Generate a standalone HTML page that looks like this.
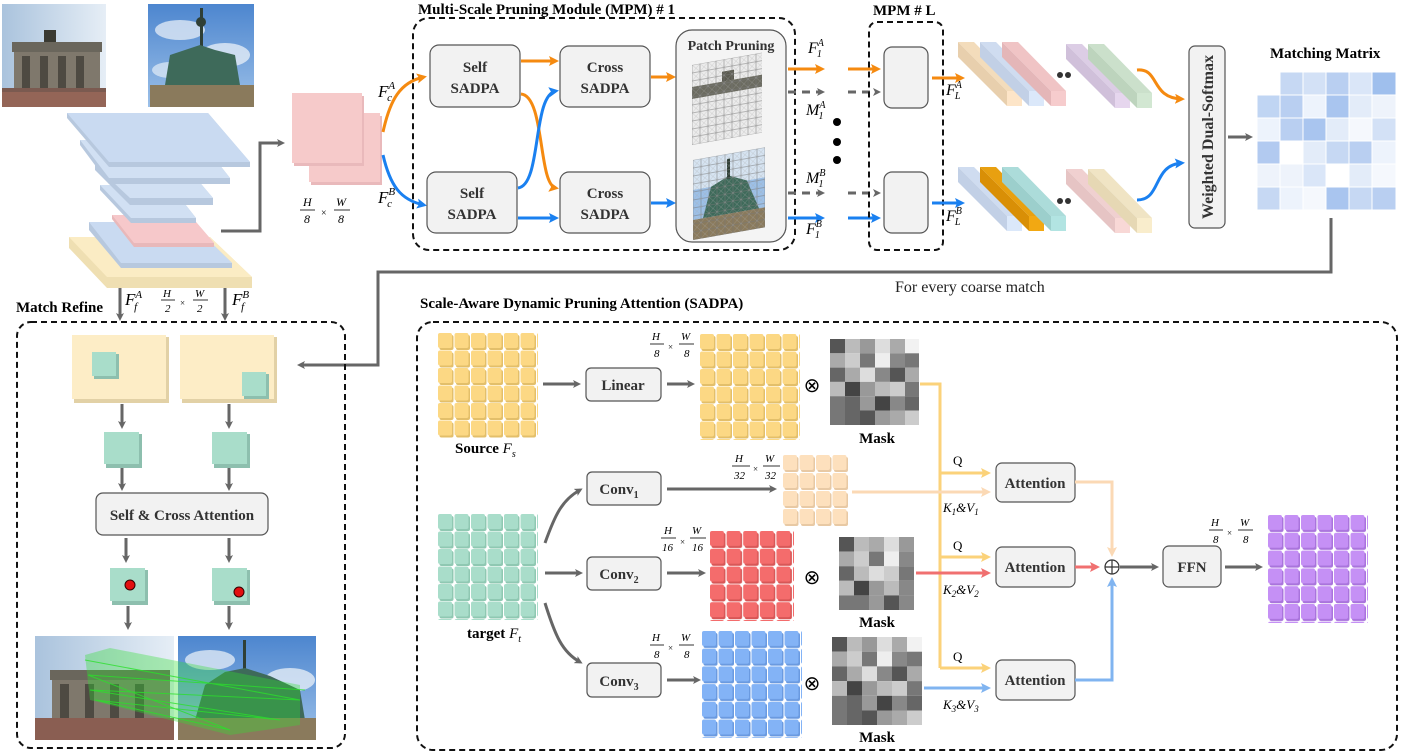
<!DOCTYPE html>
<html><head><meta charset="utf-8"><style>
html,body{margin:0;padding:0;background:#fff;}
svg{display:block;font-family:"Liberation Serif",serif;}
.b{font-weight:bold;}
.box{fill:#f2f2f2;stroke:#555;stroke-width:1.2;}
.dash{fill:none;stroke:#111;stroke-width:2;stroke-dasharray:6,4;}
.ga{stroke:#666;stroke-width:3;fill:none;}
.it{font-style:italic;}
</style></head><body>
<svg width="1404" height="756" viewBox="0 0 1404 756" xmlns="http://www.w3.org/2000/svg">
<defs>
<marker id="ag" markerWidth="8" markerHeight="8" refX="5" refY="4" orient="auto" markerUnits="userSpaceOnUse"><path d="M0,0 L8,4 L0,8 L2,4z" fill="#666"/></marker>
<marker id="ao" markerWidth="10" markerHeight="10" refX="7" refY="5" orient="auto" markerUnits="userSpaceOnUse"><path d="M0,0 L10,5 L0,10 L2,5z" fill="#f58a10"/></marker>
<marker id="ab" markerWidth="10" markerHeight="10" refX="7" refY="5" orient="auto" markerUnits="userSpaceOnUse"><path d="M0,0 L10,5 L0,10 L2,5z" fill="#1a80f0"/></marker>
<marker id="ay" markerWidth="10" markerHeight="10" refX="7" refY="5" orient="auto" markerUnits="userSpaceOnUse"><path d="M0,0 L10,5 L0,10 L2,5z" fill="#fbd27a"/></marker>
<marker id="ap" markerWidth="10" markerHeight="10" refX="7" refY="5" orient="auto" markerUnits="userSpaceOnUse"><path d="M0,0 L10,5 L0,10 L2,5z" fill="#fbd9b5"/></marker>
<marker id="ar" markerWidth="10" markerHeight="10" refX="7" refY="5" orient="auto" markerUnits="userSpaceOnUse"><path d="M0,0 L10,5 L0,10 L2,5z" fill="#f07070"/></marker>
<marker id="al" markerWidth="10" markerHeight="10" refX="7" refY="5" orient="auto" markerUnits="userSpaceOnUse"><path d="M0,0 L10,5 L0,10 L2,5z" fill="#80b4f0"/></marker>
<pattern id="ty" width="16.5" height="17.5" patternUnits="userSpaceOnUse"><rect x="1.5" y="2" width="14" height="15" rx="2" fill="#e3bf6a"/><rect x="0" y="0" width="14" height="15" rx="2" fill="#fcd884"/></pattern>
<pattern id="tt" width="16.5" height="17.5" patternUnits="userSpaceOnUse"><rect x="1.5" y="2" width="14" height="15" rx="2" fill="#8fc8b2"/><rect x="0" y="0" width="14" height="15" rx="2" fill="#a9ddca"/></pattern>
<pattern id="tp" width="16.5" height="18" patternUnits="userSpaceOnUse"><rect x="1.5" y="2" width="14" height="15" rx="2" fill="#e8c9a4"/><rect x="0" y="0" width="14" height="15" rx="2" fill="#fde0bd"/></pattern>
<pattern id="tr" width="16.6" height="17.8" patternUnits="userSpaceOnUse"><rect x="1.5" y="2" width="14" height="15" rx="2" fill="#d85656"/><rect x="0" y="0" width="14" height="15" rx="2" fill="#f46c6c"/></pattern>
<pattern id="tb" width="16.5" height="17.7" patternUnits="userSpaceOnUse"><rect x="1.5" y="2" width="14" height="15" rx="2" fill="#6a9ae0"/><rect x="0" y="0" width="14" height="15" rx="2" fill="#83b3f6"/></pattern>
<pattern id="tv" width="16.5" height="17.8" patternUnits="userSpaceOnUse"><rect x="1.5" y="2" width="14" height="15" rx="2" fill="#a974dc"/><rect x="0" y="0" width="14" height="15" rx="2" fill="#c590f5"/></pattern>
<pattern id="pg" width="8" height="8" patternUnits="userSpaceOnUse"><rect width="8" height="8" fill="none" stroke="#777" stroke-width="0.5"/><path d="M0,0L8,8M8,0L0,8" stroke="#aaa" stroke-width="0.3"/></pattern>
<linearGradient id="sky1" x1="0" y1="0" x2="1" y2="0"><stop offset="0" stop-color="#aac3dd"/><stop offset="1" stop-color="#e6eef6"/></linearGradient>
<linearGradient id="sky2" x1="0" y1="0" x2="0" y2="1"><stop offset="0" stop-color="#4d86cf"/><stop offset="1" stop-color="#9cc0e8"/></linearGradient>
</defs>

<!-- top photos -->
<g>
<rect x="2" y="4" width="104" height="103" fill="url(#sky1)"/>
<rect x="12" y="42" width="90" height="10" fill="#6a665c"/>
<rect x="14" y="52" width="86" height="38" fill="#7f786c"/>
<rect x="22" y="56" width="8" height="34" fill="#4e4a42"/><rect x="40" y="56" width="8" height="34" fill="#4e4a42"/><rect x="58" y="56" width="8" height="34" fill="#4e4a42"/><rect x="76" y="56" width="8" height="34" fill="#4e4a42"/>
<rect x="44" y="30" width="12" height="12" fill="#3a3a32"/>
<rect x="2" y="88" width="104" height="19" fill="#7b5a50"/>
<rect x="2" y="92" width="104" height="15" fill="#a06a5a" opacity=".7"/>
</g>
<g>
<rect x="148" y="4" width="106" height="103" fill="url(#sky2)"/>
<ellipse cx="180" cy="30" rx="25" ry="10" fill="#dfe9f5" opacity=".8"/><ellipse cx="225" cy="55" rx="25" ry="12" fill="#e3ecf6" opacity=".8"/><ellipse cx="170" cy="70" rx="18" ry="8" fill="#e3ecf6" opacity=".7"/>
<rect x="200" y="8" width="3" height="40" fill="#2f3f36"/><circle cx="201" cy="22" r="5" fill="#2f3f36"/>
<path d="M165,85 L170,55 L185,50 L200,45 L215,50 L235,55 L240,85z" fill="#3e6a5a"/>
<rect x="150" y="85" width="104" height="22" fill="#8a7a5c"/>
</g>

<!-- pyramid -->
<polygon points="69,237 210,237 252,277 252,288 107,288 69,248" fill="#efdfb2"/><polygon points="69,237 210,237 252,277 107,277" fill="#fbecc4"/>
<polygon points="89,222 190,222 232,263 232,268 121,268 89,230" fill="#b7c8de"/><polygon points="89,222 190,222 232,263 121,263" fill="#c9daf1"/>
<polygon points="112,215 190,215 214,243 214,247 134,247 112,219" fill="#e8b8ba"/><polygon points="112,215 190,215 214,243 134,243" fill="#f6c8ca"/>
<polygon points="100,185 170,185 196,218 196,223 131,223 100,190" fill="#b7c8de"/><polygon points="100,185 170,185 196,218 131,218" fill="#d1e0f3"/>
<polygon points="95,165 185,165 213,198 213,205 130,205 95,170" fill="#b7c8de"/><polygon points="95,165 185,165 213,198 130,198" fill="#d1e0f3"/>
<polygon points="80,140 200,140 230,178 230,184 109,184 80,145" fill="#b7c8de"/><polygon points="80,140 200,140 230,178 109,178" fill="#d1e0f3"/>
<polygon points="67,113 208,113 250,162 250,167 109,167 67,118" fill="#b7c8de"/><polygon points="67,113 208,113 250,162 109,162" fill="#c9daf1"/>
<path d="M221,231 H260 V143 H282" class="ga" marker-end="url(#ag)"/>

<!-- pink blocks -->
<rect x="311" y="116" width="71" height="69" fill="#e9b9bb"/><rect x="309" y="113" width="71" height="69" fill="#f6caca"/>
<rect x="294" y="96" width="70" height="70" fill="#e9b9bb"/><rect x="292" y="93" width="70" height="70" fill="#f6caca"/>
<g font-size="12" class="it"><text x="303" y="206">H</text><line x1="300" y1="210" x2="315" y2="210" stroke="#333"/><text x="304" y="223">8</text><text x="321" y="216" font-style="normal" font-size="10">×</text><text x="336" y="206">W</text><line x1="334" y1="210" x2="350" y2="210" stroke="#333"/><text x="338" y="223">8</text></g>
<text x="378" y="97" font-size="17" class="it">F<tspan font-size="11" dy="-8">A</tspan><tspan font-size="11" dx="-8" dy="12">c</tspan></text>
<text x="378" y="203" font-size="17" class="it">F<tspan font-size="11" dy="-8">B</tspan><tspan font-size="11" dx="-8" dy="12">c</tspan></text>
<path d="M383,132 C390,100 400,82 424,77" stroke="#f58a10" stroke-width="3" fill="none" marker-end="url(#ao)"/>
<path d="M383,155 C390,185 400,200 424,205" stroke="#1a80f0" stroke-width="3" fill="none" marker-end="url(#ab)"/>

<!-- MPM1 -->
<text x="418" y="14" font-size="15" class="b">Multi-Scale Pruning Module (MPM) # 1</text>
<rect x="413" y="18" width="382" height="232" rx="16" class="dash"/>
<rect x="430" y="45" width="90" height="62" rx="9" class="box"/><text x="475" y="72" font-size="15" class="b" text-anchor="middle" fill="#333">Self</text><text x="475" y="93" font-size="15" class="b" text-anchor="middle" fill="#333">SADPA</text>
<rect x="560" y="46" width="90" height="61" rx="9" class="box"/><text x="605" y="72" font-size="15" class="b" text-anchor="middle" fill="#333">Cross</text><text x="605" y="93" font-size="15" class="b" text-anchor="middle" fill="#333">SADPA</text>
<rect x="427" y="172" width="90" height="61" rx="9" class="box"/><text x="472" y="198" font-size="15" class="b" text-anchor="middle" fill="#333">Self</text><text x="472" y="219" font-size="15" class="b" text-anchor="middle" fill="#333">SADPA</text>
<rect x="560" y="172" width="90" height="61" rx="9" class="box"/><text x="605" y="198" font-size="15" class="b" text-anchor="middle" fill="#333">Cross</text><text x="605" y="219" font-size="15" class="b" text-anchor="middle" fill="#333">SADPA</text>
<path d="M521,61 H556" stroke="#f58a10" stroke-width="3" marker-end="url(#ao)"/>
<path d="M521,94 C545,96 538,185 556,188" stroke="#f58a10" stroke-width="3" fill="none" marker-end="url(#ao)"/>
<path d="M518,188 C542,185 532,95 556,91" stroke="#1a80f0" stroke-width="3" fill="none" marker-end="url(#ab)"/>
<path d="M518,218 H556" stroke="#1a80f0" stroke-width="3" marker-end="url(#ab)"/>
<path d="M651,77 H673" stroke="#f58a10" stroke-width="3" marker-end="url(#ao)"/>
<path d="M651,203 H673" stroke="#1a80f0" stroke-width="3" marker-end="url(#ab)"/>
<rect x="676" y="30" width="110" height="212" rx="16" fill="#f4f4f4" stroke="#555" stroke-width="1.2"/>
<text x="731" y="50" font-size="14" class="b" text-anchor="middle" fill="#333">Patch Pruning</text>
<g transform="translate(692,65) skewY(-10)"><rect width="70" height="80" fill="#ececec"/><rect y="22" width="70" height="12" fill="#6b6b60"/><rect x="30" y="12" width="12" height="10" fill="#5a5a50"/><rect width="70" height="80" fill="url(#pg)"/></g>
<g transform="translate(693,160) skewY(-10)"><rect width="72" height="80" fill="#d6e4f2"/><rect y="30" width="72" height="30" fill="#9cc0e8"/><path d="M10,60 L18,30 L36,22 L54,30 L66,60z" fill="#3e6a5a"/><rect y="60" width="72" height="20" fill="#8a7a5c"/><rect x="34" y="5" width="3" height="20" fill="#2f3f36"/><rect width="72" height="80" fill="url(#pg)"/></g>

<!-- between -->
<text x="808" y="53" font-size="16" class="it">F<tspan font-size="10" dy="-7">A</tspan><tspan font-size="10" dx="-7" dy="11">1</tspan></text>
<path d="M788,69 H822" stroke="#f58a10" stroke-width="3" marker-end="url(#ao)"/>
<path d="M788,92 H822" stroke="#666" stroke-width="3" stroke-dasharray="8,6" marker-end="url(#ag)"/>
<text x="806" y="115" font-size="16" class="it">M<tspan font-size="10" dy="-7">A</tspan><tspan font-size="10" dx="-7" dy="11">1</tspan></text>
<circle cx="837" cy="122" r="4"/><circle cx="837" cy="142" r="4"/><circle cx="837" cy="160" r="4"/>
<text x="806" y="183" font-size="16" class="it">M<tspan font-size="10" dy="-7">B</tspan><tspan font-size="10" dx="-7" dy="11">1</tspan></text>
<path d="M788,193 H822" stroke="#666" stroke-width="3" stroke-dasharray="8,6" marker-end="url(#ag)"/>
<path d="M788,218 H822" stroke="#1a80f0" stroke-width="3" marker-end="url(#ab)"/>
<text x="806" y="234" font-size="16" class="it">F<tspan font-size="10" dy="-7">B</tspan><tspan font-size="10" dx="-7" dy="11">1</tspan></text>
<path d="M848,69 H878" stroke="#f58a10" stroke-width="3" marker-end="url(#ao)"/>
<path d="M848,92 H878" stroke="#666" stroke-width="3" stroke-dasharray="8,6" marker-end="url(#ag)"/>
<path d="M848,193 H878" stroke="#666" stroke-width="3" stroke-dasharray="8,6" marker-end="url(#ag)"/>
<path d="M848,218 H878" stroke="#1a80f0" stroke-width="3" marker-end="url(#ab)"/>

<!-- MPM L -->
<text x="873" y="15" font-size="15" class="b">MPM # L</text>
<rect x="869" y="22" width="74" height="228" rx="8" class="dash"/>
<rect x="884" y="47" width="44" height="61" rx="8" class="box"/>
<rect x="884" y="172" width="44" height="61" rx="8" class="box"/>
<path d="M932,78 H962" stroke="#f58a10" stroke-width="3" marker-end="url(#ao)"/>
<path d="M932,203 H962" stroke="#1a80f0" stroke-width="3" marker-end="url(#ab)"/>
<text x="946" y="95" font-size="16" class="it">F<tspan font-size="10" dy="-7">A</tspan><tspan font-size="10" dx="-7" dy="11">L</tspan></text>
<text x="946" y="221" font-size="16" class="it">F<tspan font-size="10" dy="-7">B</tspan><tspan font-size="10" dx="-7" dy="11">L</tspan></text>

<!-- bars -->
<g id="bars">
<g transform="translate(958,42)"><polygon points="0,0 16,0 64,49 49,49" fill="#f3dcbb"/><polygon points="0,0 49,49 49,64 0,15" fill="#e8cfad"/><rect x="49" y="49" width="15" height="15" fill="#fde5c8"/></g>
<g transform="translate(980,42)"><polygon points="0,0 16,0 64,49 49,49" fill="#cfdcf0"/><polygon points="0,0 49,49 49,64 0,15" fill="#c2d0e6"/><rect x="49" y="49" width="15" height="15" fill="#dbe8fa"/></g>
<g transform="translate(1002,42)"><polygon points="0,0 16,0 64,49 49,49" fill="#f0c4c5"/><polygon points="0,0 49,49 49,64 0,15" fill="#e4b6b8"/><rect x="49" y="49" width="15" height="15" fill="#f6cccd"/></g>
<g transform="translate(1066,44)"><polygon points="0,0 16,0 64,49 49,49" fill="#dccde5"/><polygon points="0,0 49,49 49,64 0,15" fill="#d0c0da"/><rect x="49" y="49" width="15" height="15" fill="#e6d6ee"/></g>
<g transform="translate(1088,44)"><polygon points="0,0 16,0 64,49 49,49" fill="#cbe0cb"/><polygon points="0,0 49,49 49,64 0,15" fill="#bdd4bd"/><rect x="49" y="49" width="15" height="15" fill="#d2e7d2"/></g>
<g transform="translate(958,167)"><polygon points="0,0 16,0 64,49 49,49" fill="#cfdcf0"/><polygon points="0,0 49,49 49,64 0,15" fill="#c2d0e6"/><rect x="49" y="49" width="15" height="15" fill="#dbe8fa"/></g>
<g transform="translate(980,167)"><polygon points="0,0 16,0 64,49 49,49" fill="#e8a010"/><polygon points="0,0 49,49 49,64 0,15" fill="#d98f06"/><rect x="49" y="49" width="15" height="15" fill="#f2a812"/></g>
<g transform="translate(1002,167)"><polygon points="0,0 16,0 64,49 49,49" fill="#acdcda"/><polygon points="0,0 49,49 49,64 0,15" fill="#9ccfcc"/><rect x="49" y="49" width="15" height="15" fill="#b2e4e2"/></g>
<g transform="translate(1066,169)"><polygon points="0,0 16,0 64,49 49,49" fill="#f0d0d0"/><polygon points="0,0 49,49 49,64 0,15" fill="#e6c4c4"/><rect x="49" y="49" width="15" height="15" fill="#f8d8d6"/></g>
<g transform="translate(1088,169)"><polygon points="0,0 16,0 64,49 49,49" fill="#f0e4c4"/><polygon points="0,0 49,49 49,64 0,15" fill="#e6d8b4"/><rect x="49" y="49" width="15" height="15" fill="#f9edcc"/></g>
</g>
<circle cx="1060" cy="75" r="3" fill="#333"/><circle cx="1068" cy="75" r="3" fill="#333"/>
<circle cx="1060" cy="201" r="3" fill="#333"/><circle cx="1068" cy="201" r="3" fill="#333"/>
<path d="M1137,70 C1160,68 1150,98 1182,99" stroke="#f58a10" stroke-width="3" fill="none" marker-end="url(#ao)"/>
<path d="M1137,200 C1162,200 1152,165 1182,163" stroke="#1a80f0" stroke-width="3" fill="none" marker-end="url(#ab)"/>

<rect x="1189" y="46" width="36" height="182" rx="6" class="box"/>
<text transform="translate(1213,137) rotate(-90)" font-size="16" class="b" text-anchor="middle" fill="#333">Weighted Dual-Softmax</text>
<path d="M1228,137 H1250" class="ga" marker-end="url(#ag)"/>

<text x="1270" y="58" font-size="15" class="b">Matching Matrix</text>
<g stroke="#fff" stroke-width="1">
<rect x="1280" y="72" width="23" height="23" fill="#c6d8f3"/><rect x="1303" y="72" width="23" height="23" fill="#d3e1f6"/><rect x="1326" y="72" width="23" height="23" fill="#b9cff1"/><rect x="1349" y="72" width="23" height="23" fill="#dae6f8"/><rect x="1372" y="72" width="24" height="23" fill="#9fbfed"/>
<rect x="1257" y="95" width="23" height="23" fill="#c0d5f3"/><rect x="1280" y="95" width="23" height="23" fill="#b9cff1"/><rect x="1303" y="95" width="23" height="23" fill="#edf3fc"/><rect x="1326" y="95" width="23" height="23" fill="#a9c5ef"/><rect x="1349" y="95" width="23" height="23" fill="#e3ecf9"/><rect x="1372" y="95" width="24" height="23" fill="#eef3fb"/>
<rect x="1257" y="118" width="23" height="23" fill="#edf3fc"/><rect x="1280" y="118" width="23" height="23" fill="#b9cff1"/><rect x="1303" y="118" width="23" height="23" fill="#a9c5ef"/><rect x="1326" y="118" width="23" height="23" fill="#e3ecf9"/><rect x="1349" y="118" width="23" height="23" fill="#f5f8fd"/><rect x="1372" y="118" width="24" height="23" fill="#d3e1f6"/>
<rect x="1257" y="141" width="23" height="23" fill="#b2caf0"/><rect x="1280" y="141" width="23" height="23" fill="#fff"/><rect x="1303" y="141" width="23" height="23" fill="#e3ecf9"/><rect x="1326" y="141" width="23" height="23" fill="#c6d8f3"/><rect x="1349" y="141" width="23" height="23" fill="#b9cff1"/><rect x="1372" y="141" width="24" height="23" fill="#edf3fc"/>
<rect x="1257" y="164" width="23" height="23" fill="#eef3fb"/><rect x="1280" y="164" width="23" height="23" fill="#eef3fb"/><rect x="1303" y="164" width="23" height="23" fill="#dae6f8"/><rect x="1326" y="164" width="23" height="23" fill="#fff"/><rect x="1349" y="164" width="23" height="23" fill="#e3ecf9"/><rect x="1372" y="164" width="24" height="23" fill="#f5f8fd"/>
<rect x="1257" y="187" width="23" height="23" fill="#c6d8f3"/><rect x="1280" y="187" width="23" height="23" fill="#edf3fc"/><rect x="1303" y="187" width="23" height="23" fill="#f5f8fd"/><rect x="1326" y="187" width="23" height="23" fill="#a9c5ef"/><rect x="1349" y="187" width="23" height="23" fill="#c6d8f3"/><rect x="1372" y="187" width="24" height="23" fill="#b9cff1"/>
</g>
<path d="M1331,218 V272 H378 V365 H300" class="ga" marker-end="url(#ag)"/>
<text x="895" y="292" font-size="16" fill="#222">For every coarse match</text>

<!-- Match refine -->
<text x="16" y="312" font-size="15" class="b">Match Refine</text>
<rect x="17" y="322" width="328" height="426" rx="14" class="dash"/>
<path d="M120,288 V318" class="ga" marker-end="url(#ag)"/>
<path d="M225,288 V318" class="ga" marker-end="url(#ag)"/>
<text x="125" y="305" font-size="17" class="it">F<tspan font-size="11" dy="-7">A</tspan><tspan font-size="11" dx="-8" dy="12">f</tspan></text>
<text x="232" y="305" font-size="17" class="it">F<tspan font-size="11" dy="-7">B</tspan><tspan font-size="11" dx="-8" dy="12">f</tspan></text>
<g font-size="11" class="it"><text x="163" y="297">H</text><line x1="161" y1="300" x2="175" y2="300" stroke="#333"/><text x="165" y="312">2</text><text x="180" y="306" font-style="normal" font-size="9">×</text><text x="195" y="297">W</text><line x1="193" y1="300" x2="208" y2="300" stroke="#333"/><text x="197" y="312">2</text></g>
<rect x="74" y="337" width="95" height="66" fill="#e2d1a6"/><rect x="72" y="335" width="94" height="64" fill="#fdedc6"/>
<rect x="182" y="337" width="95" height="66" fill="#e2d1a6"/><rect x="180" y="335" width="94" height="64" fill="#fdedc6"/>
<rect x="94" y="354" width="25" height="25" fill="#8dbfae"/><rect x="92" y="352" width="24" height="24" fill="#a9ddca"/>
<rect x="244" y="374" width="25" height="25" fill="#8dbfae"/><rect x="242" y="372" width="24" height="24" fill="#a9ddca"/>
<path d="M122,404 V426" class="ga" marker-end="url(#ag)"/><path d="M229,404 V426" class="ga" marker-end="url(#ag)"/>
<rect x="106" y="434" width="36" height="34" fill="#8dbfae"/><rect x="104" y="432" width="35" height="32" fill="#a9ddca"/>
<rect x="214" y="434" width="36" height="34" fill="#8dbfae"/><rect x="212" y="432" width="35" height="32" fill="#a9ddca"/>
<path d="M122,468 V488" class="ga" marker-end="url(#ag)"/><path d="M229,468 V488" class="ga" marker-end="url(#ag)"/>
<rect x="96" y="493" width="172" height="42" rx="7" class="box"/>
<text x="182" y="520" font-size="15" class="b" text-anchor="middle" fill="#333">Self &amp; Cross Attention</text>
<path d="M126,538 V560" class="ga" marker-end="url(#ag)"/><path d="M229,538 V560" class="ga" marker-end="url(#ag)"/>
<rect x="112" y="570" width="36" height="35" fill="#8dbfae"/><rect x="110" y="568" width="35" height="33" fill="#a9ddca"/>
<rect x="214" y="570" width="36" height="35" fill="#8dbfae"/><rect x="212" y="568" width="35" height="33" fill="#a9ddca"/>
<circle cx="130" cy="585" r="5" fill="#e21010" stroke="#300" stroke-width="1"/>
<circle cx="239" cy="592" r="5" fill="#e21010" stroke="#300" stroke-width="1"/>
<path d="M128,606 V627" class="ga" marker-end="url(#ag)"/><path d="M229,606 V627" class="ga" marker-end="url(#ag)"/>
<rect x="35" y="636" width="139" height="104" fill="url(#sky1)"/>
<rect x="50" y="670" width="120" height="10" fill="#6a665c"/><rect x="52" y="680" width="118" height="40" fill="#7f786c"/>
<rect x="60" y="684" width="9" height="36" fill="#4e4a42"/><rect x="85" y="684" width="9" height="36" fill="#4e4a42"/><rect x="110" y="684" width="9" height="36" fill="#4e4a42"/><rect x="135" y="684" width="9" height="36" fill="#4e4a42"/>
<rect x="35" y="718" width="139" height="22" fill="#8a5e52"/>
<rect x="178" y="636" width="138" height="104" fill="url(#sky2)"/>
<ellipse cx="210" cy="660" rx="25" ry="10" fill="#dfe9f5" opacity=".8"/><ellipse cx="290" cy="680" rx="25" ry="12" fill="#e3ecf6" opacity=".8"/>
<rect x="243" y="640" width="3" height="35" fill="#2f3f36"/>
<path d="M195,720 L205,685 L225,672 L245,668 L270,676 L300,690 L305,720z" fill="#3e6a5a"/>
<rect x="178" y="718" width="138" height="22" fill="#8a7a5c"/>
<path d="M85,660 L300,700 L90,690 L280,720 L95,700 L230,730 L88,675 L305,690" stroke="#28e028" stroke-width="1" fill="none" opacity=".8"/>
<polygon points="85,655 110,648 300,685 300,725 230,735 90,700" fill="#30e030" opacity=".35"/>

<!-- SADPA -->
<text x="420" y="308" font-size="15" class="b">Scale-Aware Dynamic Pruning Attention (SADPA)</text>
<rect x="417" y="322" width="980" height="428" rx="16" class="dash"/>
<g transform="translate(438,333)"><rect width="100" height="105" fill="url(#ty)"/></g>
<text x="455" y="453" font-size="15" class="b">Source <tspan font-weight="normal" font-style="italic">F<tspan font-size="10" dy="4">s</tspan></tspan></text>
<path d="M543,384 H578" class="ga" marker-end="url(#ag)"/>
<rect x="586" y="368" width="75" height="33" rx="5" class="box"/><text x="623" y="390" font-size="15" class="b" text-anchor="middle" fill="#333">Linear</text>
<path d="M667,384 H692" class="ga" marker-end="url(#ag)"/>
<g font-size="11" class="it"><text x="652" y="340">H</text><line x1="650" y1="344" x2="664" y2="344" stroke="#333"/><text x="654" y="357">8</text><text x="668" y="350" font-style="normal" font-size="9">×</text><text x="681" y="340">W</text><line x1="679" y1="344" x2="694" y2="344" stroke="#333"/><text x="684" y="357">8</text></g>
<g transform="translate(700,334)"><rect width="100" height="106" fill="url(#ty)"/></g>
<text x="812" y="392" font-size="20" text-anchor="middle">⊗</text>
<g transform="translate(830,339)">
<g>
<rect x="0" y="0" width="15" height="14.3" fill="#555"/><rect x="15" y="0" width="15" height="14.3" fill="#bbb"/><rect x="30" y="0" width="15" height="14.3" fill="#999"/><rect x="45" y="0" width="15" height="14.3" fill="#ddd"/><rect x="60" y="0" width="15" height="14.3" fill="#aaa"/><rect x="75" y="0" width="14" height="14.3" fill="#f2f2f2"/>
<rect x="0" y="14.3" width="15" height="14.3" fill="#aaa"/><rect x="15" y="14.3" width="15" height="14.3" fill="#ccc"/><rect x="30" y="14.3" width="15" height="14.3" fill="#777"/><rect x="45" y="14.3" width="15" height="14.3" fill="#eee"/><rect x="60" y="14.3" width="15" height="14.3" fill="#888"/><rect x="75" y="14.3" width="14" height="14.3" fill="#777"/>
<rect x="0" y="28.6" width="15" height="14.3" fill="#666"/><rect x="15" y="28.6" width="15" height="14.3" fill="#aaa"/><rect x="30" y="28.6" width="15" height="14.3" fill="#ddd"/><rect x="45" y="28.6" width="15" height="14.3" fill="#888"/><rect x="60" y="28.6" width="15" height="14.3" fill="#555"/><rect x="75" y="28.6" width="14" height="14.3" fill="#aaa"/>
<rect x="0" y="42.9" width="15" height="14.3" fill="#bbb"/><rect x="15" y="42.9" width="15" height="14.3" fill="#444"/><rect x="30" y="42.9" width="15" height="14.3" fill="#999"/><rect x="45" y="42.9" width="15" height="14.3" fill="#bbb"/><rect x="60" y="42.9" width="15" height="14.3" fill="#ccc"/><rect x="75" y="42.9" width="14" height="14.3" fill="#777"/>
<rect x="0" y="57.2" width="15" height="14.3" fill="#777"/><rect x="15" y="57.2" width="15" height="14.3" fill="#666"/><rect x="30" y="57.2" width="15" height="14.3" fill="#999"/><rect x="45" y="57.2" width="15" height="14.3" fill="#444"/><rect x="60" y="57.2" width="15" height="14.3" fill="#888"/><rect x="75" y="57.2" width="14" height="14.3" fill="#666"/>
<rect x="0" y="71.5" width="15" height="14.5" fill="#777"/><rect x="15" y="71.5" width="15" height="14.5" fill="#666"/><rect x="30" y="71.5" width="15" height="14.5" fill="#555"/><rect x="45" y="71.5" width="15" height="14.5" fill="#999"/><rect x="60" y="71.5" width="15" height="14.5" fill="#aaa"/><rect x="75" y="71.5" width="14" height="14.5" fill="#ccc"/>
</g></g>
<text x="877" y="443" font-size="15" class="b" text-anchor="middle">Mask</text>

<!-- yellow Q lines -->
<path d="M920,384 H940 V668" stroke="#fbd27a" stroke-width="3" fill="none"/>
<path d="M940,473 H988" stroke="#fbd27a" stroke-width="3" marker-end="url(#ay)"/>
<path d="M940,557 H988" stroke="#fbd27a" stroke-width="3" marker-end="url(#ay)"/>
<path d="M940,668 H988" stroke="#fbd27a" stroke-width="3" marker-end="url(#ay)"/>
<text x="953" y="465" font-size="13">Q</text><text x="953" y="550" font-size="13">Q</text><text x="953" y="661" font-size="13">Q</text>

<g transform="translate(438,514)"><rect width="100" height="106" fill="url(#tt)"/></g>
<text x="467" y="638" font-size="15" class="b">target <tspan font-weight="normal" font-style="italic">F<tspan font-size="10" dy="4">t</tspan></tspan></text>
<path d="M545,543 C555,515 562,500 580,490" class="ga" marker-end="url(#ag)"/>
<path d="M545,573 H580" class="ga" marker-end="url(#ag)"/>
<path d="M545,603 C555,635 562,652 580,662" class="ga" marker-end="url(#ag)"/>

<rect x="587" y="472" width="74" height="33" rx="5" class="box"/><text x="619" y="494" font-size="15" class="b" text-anchor="middle" fill="#333">Conv<tspan font-size="10" dy="4">1</tspan></text>
<rect x="587" y="557" width="74" height="33" rx="5" class="box"/><text x="619" y="579" font-size="15" class="b" text-anchor="middle" fill="#333">Conv<tspan font-size="10" dy="4">2</tspan></text>
<rect x="587" y="663" width="74" height="34" rx="5" class="box"/><text x="619" y="686" font-size="15" class="b" text-anchor="middle" fill="#333">Conv<tspan font-size="10" dy="4">3</tspan></text>

<path d="M667,489 H774" class="ga" marker-end="url(#ag)"/>
<g font-size="11" class="it"><text x="735" y="462">H</text><line x1="732" y1="466" x2="750" y2="466" stroke="#333"/><text x="734" y="479">32</text><text x="753" y="472" font-style="normal" font-size="9">×</text><text x="765" y="462">W</text><line x1="763" y1="466" x2="780" y2="466" stroke="#333"/><text x="765" y="479">32</text></g>
<g transform="translate(783,455)"><rect width="66" height="72" fill="url(#tp)"/></g>
<path d="M852,492 H988" stroke="#fbd9b5" stroke-width="3" marker-end="url(#ap)"/>
<text x="943" y="512" font-size="13" class="it">K<tspan font-size="9" dy="3">1</tspan><tspan dy="-3">&amp;V</tspan><tspan font-size="9" dy="3">1</tspan></text>

<path d="M667,573 H703" class="ga" marker-end="url(#ag)"/>
<g font-size="11" class="it"><text x="664" y="534">H</text><line x1="661" y1="538" x2="676" y2="538" stroke="#333"/><text x="662" y="551">16</text><text x="680" y="545" font-style="normal" font-size="9">×</text><text x="692" y="534">W</text><line x1="690" y1="538" x2="706" y2="538" stroke="#333"/><text x="692" y="551">16</text></g>
<g transform="translate(710,531)"><rect width="84" height="90" fill="url(#tr)"/></g>
<text x="812" y="584" font-size="20" text-anchor="middle">⊗</text>
<g transform="translate(839,537)">
<rect x="0" y="0" width="15" height="14.6" fill="#555"/><rect x="15" y="0" width="15" height="14.6" fill="#bbb"/><rect x="30" y="0" width="15" height="14.6" fill="#aaa"/><rect x="45" y="0" width="15" height="14.6" fill="#ddd"/><rect x="60" y="0" width="15" height="14.6" fill="#999"/>
<rect x="0" y="14.6" width="15" height="14.6" fill="#aaa"/><rect x="15" y="14.6" width="15" height="14.6" fill="#ccc"/><rect x="30" y="14.6" width="15" height="14.6" fill="#777"/><rect x="45" y="14.6" width="15" height="14.6" fill="#eee"/><rect x="60" y="14.6" width="15" height="14.6" fill="#888"/>
<rect x="0" y="29.2" width="15" height="14.6" fill="#666"/><rect x="15" y="29.2" width="15" height="14.6" fill="#bbb"/><rect x="30" y="29.2" width="15" height="14.6" fill="#ddd"/><rect x="45" y="29.2" width="15" height="14.6" fill="#ccc"/><rect x="60" y="29.2" width="15" height="14.6" fill="#777"/>
<rect x="0" y="43.8" width="15" height="14.6" fill="#bbb"/><rect x="15" y="43.8" width="15" height="14.6" fill="#444"/><rect x="30" y="43.8" width="15" height="14.6" fill="#999"/><rect x="45" y="43.8" width="15" height="14.6" fill="#bbb"/><rect x="60" y="43.8" width="15" height="14.6" fill="#888"/>
<rect x="0" y="58.4" width="15" height="14.6" fill="#777"/><rect x="15" y="58.4" width="15" height="14.6" fill="#777"/><rect x="30" y="58.4" width="15" height="14.6" fill="#999"/><rect x="45" y="58.4" width="15" height="14.6" fill="#555"/><rect x="60" y="58.4" width="15" height="14.6" fill="#888"/>
</g>
<text x="877" y="627" font-size="15" class="b" text-anchor="middle">Mask</text>
<path d="M916,573 H988" stroke="#f07070" stroke-width="3" marker-end="url(#ar)"/>
<text x="943" y="594" font-size="13" class="it">K<tspan font-size="9" dy="3">2</tspan><tspan dy="-3">&amp;V</tspan><tspan font-size="9" dy="3">2</tspan></text>

<path d="M667,680 H698" class="ga" marker-end="url(#ag)"/>
<g font-size="11" class="it"><text x="652" y="641">H</text><line x1="650" y1="645" x2="664" y2="645" stroke="#333"/><text x="654" y="658">8</text><text x="668" y="651" font-style="normal" font-size="9">×</text><text x="681" y="641">W</text><line x1="679" y1="645" x2="694" y2="645" stroke="#333"/><text x="684" y="658">8</text></g>
<g transform="translate(702,631)"><rect width="100" height="107" fill="url(#tb)"/></g>
<text x="812" y="690" font-size="20" text-anchor="middle">⊗</text>
<g transform="translate(832,637)">
<rect x="0" y="0" width="15" height="14.7" fill="#555"/><rect x="15" y="0" width="15" height="14.7" fill="#bbb"/><rect x="30" y="0" width="15" height="14.7" fill="#999"/><rect x="45" y="0" width="15" height="14.7" fill="#ddd"/><rect x="60" y="0" width="15" height="14.7" fill="#aaa"/><rect x="75" y="0" width="15" height="14.7" fill="#f2f2f2"/>
<rect x="0" y="14.7" width="15" height="14.7" fill="#aaa"/><rect x="15" y="14.7" width="15" height="14.7" fill="#ccc"/><rect x="30" y="14.7" width="15" height="14.7" fill="#777"/><rect x="45" y="14.7" width="15" height="14.7" fill="#eee"/><rect x="60" y="14.7" width="15" height="14.7" fill="#888"/><rect x="75" y="14.7" width="15" height="14.7" fill="#777"/>
<rect x="0" y="29.4" width="15" height="14.7" fill="#666"/><rect x="15" y="29.4" width="15" height="14.7" fill="#aaa"/><rect x="30" y="29.4" width="15" height="14.7" fill="#ddd"/><rect x="45" y="29.4" width="15" height="14.7" fill="#888"/><rect x="60" y="29.4" width="15" height="14.7" fill="#555"/><rect x="75" y="29.4" width="15" height="14.7" fill="#aaa"/>
<rect x="0" y="44.1" width="15" height="14.7" fill="#bbb"/><rect x="15" y="44.1" width="15" height="14.7" fill="#444"/><rect x="30" y="44.1" width="15" height="14.7" fill="#999"/><rect x="45" y="44.1" width="15" height="14.7" fill="#bbb"/><rect x="60" y="44.1" width="15" height="14.7" fill="#ccc"/><rect x="75" y="44.1" width="15" height="14.7" fill="#777"/>
<rect x="0" y="58.8" width="15" height="14.7" fill="#777"/><rect x="15" y="58.8" width="15" height="14.7" fill="#666"/><rect x="30" y="58.8" width="15" height="14.7" fill="#999"/><rect x="45" y="58.8" width="15" height="14.7" fill="#444"/><rect x="60" y="58.8" width="15" height="14.7" fill="#888"/><rect x="75" y="58.8" width="15" height="14.7" fill="#666"/>
<rect x="0" y="73.5" width="15" height="14.5" fill="#777"/><rect x="15" y="73.5" width="15" height="14.5" fill="#666"/><rect x="30" y="73.5" width="15" height="14.5" fill="#555"/><rect x="45" y="73.5" width="15" height="14.5" fill="#999"/><rect x="60" y="73.5" width="15" height="14.5" fill="#aaa"/><rect x="75" y="73.5" width="15" height="14.5" fill="#ccc"/>
</g>
<text x="877" y="742" font-size="15" class="b" text-anchor="middle">Mask</text>
<path d="M924,688 H988" stroke="#80b4f0" stroke-width="3" marker-end="url(#al)"/>
<text x="943" y="709" font-size="13" class="it">K<tspan font-size="9" dy="3">3</tspan><tspan dy="-3">&amp;V</tspan><tspan font-size="9" dy="3">3</tspan></text>

<rect x="996" y="463" width="79" height="39" rx="6" class="box"/><text x="1035" y="488" font-size="15" class="b" text-anchor="middle" fill="#333">Attention</text>
<rect x="996" y="547" width="79" height="40" rx="6" class="box"/><text x="1035" y="572" font-size="15" class="b" text-anchor="middle" fill="#333">Attention</text>
<rect x="996" y="660" width="79" height="40" rx="6" class="box"/><text x="1035" y="685" font-size="15" class="b" text-anchor="middle" fill="#333">Attention</text>

<path d="M1075,482 H1112 V554" stroke="#fbd9b5" stroke-width="3" fill="none" marker-end="url(#ap)"/>
<path d="M1075,567 H1097" stroke="#f07070" stroke-width="3" marker-end="url(#ar)"/>
<path d="M1075,680 H1112 V580" stroke="#80b4f0" stroke-width="3" fill="none" marker-end="url(#al)"/>
<circle cx="1112" cy="567" r="7" fill="#fff" stroke="#333" stroke-width="1.2"/><path d="M1105,567 H1119 M1112,560 V574" stroke="#333" stroke-width="1.2"/>
<path d="M1120,567 H1156" class="ga" marker-end="url(#ag)"/>
<rect x="1163" y="546" width="58" height="41" rx="6" class="box"/><text x="1192" y="572" font-size="15" class="b" text-anchor="middle" fill="#333">FFN</text>
<path d="M1225,567 H1260" class="ga" marker-end="url(#ag)"/>
<g font-size="11" class="it"><text x="1211" y="526">H</text><line x1="1209" y1="530" x2="1223" y2="530" stroke="#333"/><text x="1213" y="543">8</text><text x="1227" y="536" font-style="normal" font-size="9">×</text><text x="1240" y="526">W</text><line x1="1238" y1="530" x2="1253" y2="530" stroke="#333"/><text x="1243" y="543">8</text></g>
<g transform="translate(1268,515)"><rect width="100" height="108" fill="url(#tv)"/></g>
</svg>
</body></html>
